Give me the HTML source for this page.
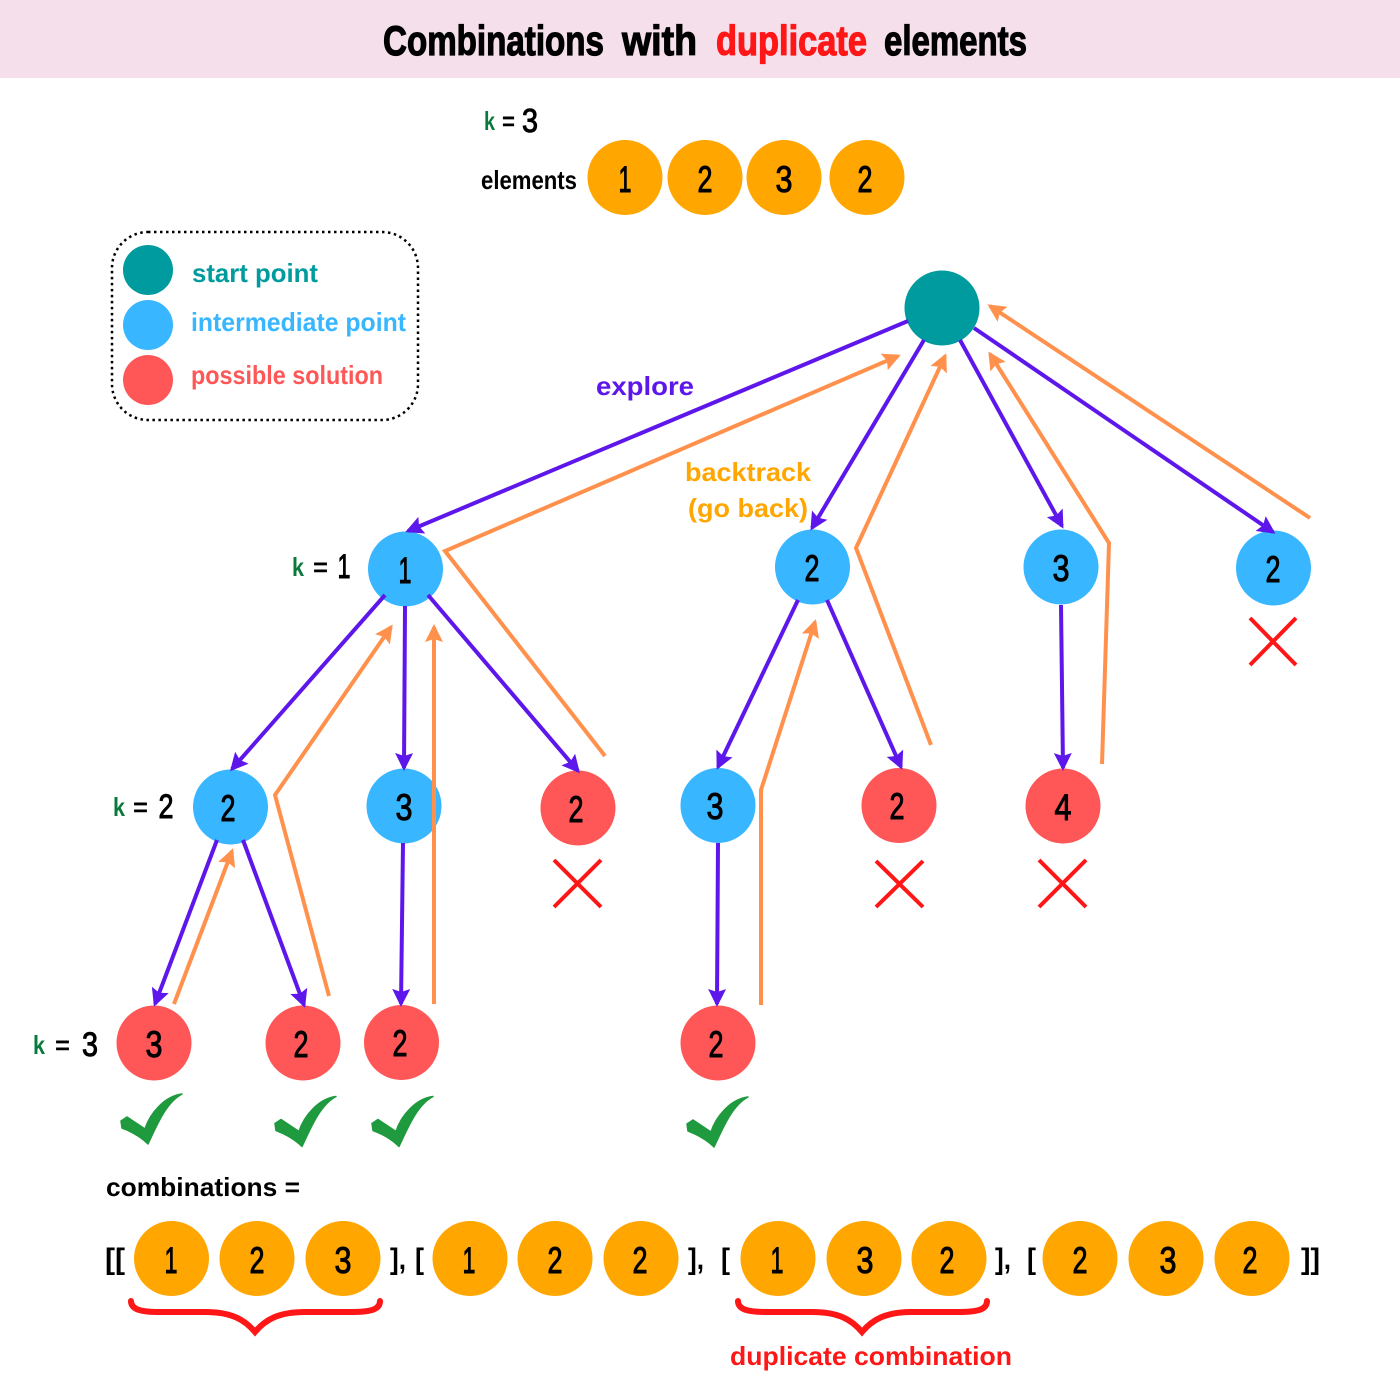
<!DOCTYPE html>
<html><head><meta charset="utf-8"><style>
html,body{margin:0;padding:0;background:#fff}
svg{display:block}
text{font-family:"Liberation Sans",sans-serif;}
.n{font-size:37px;text-anchor:middle;fill:#000;stroke:#000;stroke-width:1}
.l{font-weight:bold;font-size:26px}
.t{font-weight:bold;font-size:42px;stroke-width:1.2}
.p{stroke:#5e17eb;stroke-width:4;fill:none}
.o{stroke:#ff914d;stroke-width:4;fill:none}
.x{stroke:#ff1616;stroke-width:4;fill:none}
.b{stroke:#ff1616;stroke-width:6;fill:none;stroke-linecap:round}
</style></head><body>
<svg width="1400" height="1400" viewBox="0 0 1400 1400" xmlns="http://www.w3.org/2000/svg">
<defs>
<marker id="mp" markerUnits="userSpaceOnUse" markerWidth="22" markerHeight="22" refX="15" refY="9" orient="auto"><path d="M0 0L18 9L0 18L3 9Z" fill="#5e17eb"/></marker>
<marker id="mo" markerUnits="userSpaceOnUse" markerWidth="22" markerHeight="22" refX="15" refY="9" orient="auto"><path d="M0 0L18 9L0 18L3 9Z" fill="#ff914d"/></marker>
<path id="chk" d="M182 1094C167 1102 158 1122 148 1144C140 1136 130 1131 122 1128L121 1121L127 1117L145 1129C150 1113 165 1096 182 1094Z" fill="#1f9a3e" stroke="#1f9a3e" stroke-width="1.5" stroke-linejoin="round"/>
<path id="br" class="b" d="M131 1301C131 1310 142 1312 160 1312L205 1312C232 1312 245 1320 255 1332C265 1320 278 1312 305 1312L350 1312C370 1312 380 1310 380 1301"/>
</defs>
<rect width="1400" height="78" fill="#f4dfeb"/>
<g class="t">
<text class="t" x="383" y="55" textLength="221" lengthAdjust="spacingAndGlyphs" fill="#000" stroke="#000">Combinations</text>
<text class="t" x="622" y="55" textLength="75" lengthAdjust="spacingAndGlyphs" fill="#000" stroke="#000">with</text>
<text class="t" x="716" y="55" textLength="151" lengthAdjust="spacingAndGlyphs" fill="#ff1616" stroke="#ff1616">duplicate</text>
<text class="t" x="884" y="55" textLength="143" lengthAdjust="spacingAndGlyphs" fill="#000" stroke="#000">elements</text>
</g>

<text class="l" x="484" y="130" textLength="11" lengthAdjust="spacingAndGlyphs" fill="#0a7a3c">k</text>
<text class="l" x="502" y="130" textLength="13" lengthAdjust="spacingAndGlyphs">=</text>
<text class="n" x="530" y="132" textLength="16" lengthAdjust="spacingAndGlyphs" style="font-size:33px">3</text>
<text class="l" x="481" y="189" textLength="96" lengthAdjust="spacingAndGlyphs">elements</text>

<g fill="#ffa600">
<circle cx="625" cy="177.5" r="37.5"/><circle cx="705" cy="177.5" r="37.5"/><circle cx="784" cy="177.5" r="37.5"/><circle cx="867" cy="177.5" r="37.5"/>
</g>
<g>
<text class="n" x="625" y="192" textLength="13" lengthAdjust="spacingAndGlyphs">1</text>
<text class="n" x="705" y="192" textLength="15" lengthAdjust="spacingAndGlyphs">2</text>
<text class="n" x="784" y="192" textLength="17" lengthAdjust="spacingAndGlyphs">3</text>
<text class="n" x="865" y="192" textLength="15" lengthAdjust="spacingAndGlyphs">2</text>
</g>

<rect x="112" y="232" width="306" height="188" rx="36" fill="none" stroke="#000" stroke-width="2.5" stroke-dasharray="2.5 3.5"/>
<circle cx="148" cy="270" r="25" fill="#009b9e"/>
<circle cx="148" cy="325" r="25" fill="#38b6ff"/>
<circle cx="148" cy="380" r="25" fill="#ff5757"/>
<text class="l" x="192" y="282" textLength="126" lengthAdjust="spacingAndGlyphs" fill="#009b9e">start point</text>
<text class="l" x="191" y="331" textLength="215" lengthAdjust="spacingAndGlyphs" fill="#38b6ff">intermediate point</text>
<text class="l" x="191" y="384" textLength="192" lengthAdjust="spacingAndGlyphs" fill="#ff5757">possible solution</text>

<!-- nodes -->
<circle cx="942" cy="308" r="37.5" fill="#009b9e"/>
<g fill="#38b6ff">
<circle cx="405.5" cy="569" r="37.5"/><circle cx="812.5" cy="567" r="37.5"/><circle cx="1061" cy="567" r="37.5"/><circle cx="1273.5" cy="568" r="37.5"/>
<circle cx="230.5" cy="807" r="37.5"/><circle cx="404" cy="806" r="37.5"/><circle cx="718" cy="805.5" r="37.5"/>
</g>
<g fill="#ff5757">
<circle cx="578" cy="808" r="37.5"/><circle cx="899" cy="805.5" r="37.5"/><circle cx="1063" cy="806" r="37.5"/>
<circle cx="154" cy="1043" r="37.5"/><circle cx="303" cy="1043" r="37.5"/><circle cx="401.5" cy="1042.5" r="37.5"/><circle cx="718" cy="1043" r="37.5"/>
</g>
<g>
<text class="n" x="405" y="583" textLength="13" lengthAdjust="spacingAndGlyphs">1</text>
<text class="n" x="812" y="581" textLength="15" lengthAdjust="spacingAndGlyphs">2</text>
<text class="n" x="1061" y="581" textLength="17" lengthAdjust="spacingAndGlyphs">3</text>
<text class="n" x="1273" y="582" textLength="15" lengthAdjust="spacingAndGlyphs">2</text>
<text class="n" x="228" y="821" textLength="15" lengthAdjust="spacingAndGlyphs">2</text>
<text class="n" x="404" y="820" textLength="17" lengthAdjust="spacingAndGlyphs">3</text>
<text class="n" x="576" y="822" textLength="15" lengthAdjust="spacingAndGlyphs">2</text>
<text class="n" x="715" y="819" textLength="17" lengthAdjust="spacingAndGlyphs">3</text>
<text class="n" x="897" y="819" textLength="15" lengthAdjust="spacingAndGlyphs">2</text>
<text class="n" x="1063" y="820" textLength="17" lengthAdjust="spacingAndGlyphs">4</text>
<text class="n" x="154" y="1057" textLength="17" lengthAdjust="spacingAndGlyphs">3</text>
<text class="n" x="301" y="1057" textLength="15" lengthAdjust="spacingAndGlyphs">2</text>
<text class="n" x="400" y="1056" textLength="15" lengthAdjust="spacingAndGlyphs">2</text>
<text class="n" x="716" y="1057" textLength="15" lengthAdjust="spacingAndGlyphs">2</text>
</g>

<!-- explore -->
<path class="p" marker-end="url(#mp)" d="M908 321L408 531"/>
<path class="p" marker-end="url(#mp)" d="M924 340L812 528"/>
<path class="p" marker-end="url(#mp)" d="M960 340L1062 526"/>
<path class="p" marker-end="url(#mp)" d="M974 328L1273 532"/>
<path class="p" marker-end="url(#mp)" d="M385 595L232 769"/>
<path class="p" marker-end="url(#mp)" d="M405 606L404 768"/>
<path class="p" marker-end="url(#mp)" d="M428 595L578 771"/>
<path class="p" marker-end="url(#mp)" d="M798 600L718 767"/>
<path class="p" marker-end="url(#mp)" d="M827 600L901 767"/>
<path class="p" marker-end="url(#mp)" d="M1061 605L1063 768"/>
<path class="p" marker-end="url(#mp)" d="M217 840L155 1004"/>
<path class="p" marker-end="url(#mp)" d="M243 840L304 1005"/>
<path class="p" marker-end="url(#mp)" d="M403 843L401 1004"/>
<path class="p" marker-end="url(#mp)" d="M718 843L717 1004"/>
<!-- backtrack -->
<path class="o" marker-end="url(#mo)" d="M605 756L445 551L898 356"/>
<path class="o" marker-end="url(#mo)" d="M931 745L856 548L945 356"/>
<path class="o" marker-end="url(#mo)" d="M1102 764L1109 543L990 354"/>
<path class="o" marker-end="url(#mo)" d="M1310 518L990 306"/>
<path class="o" marker-end="url(#mo)" d="M329 996L275 795L391 627"/>
<path class="o" marker-end="url(#mo)" d="M434 1004L434 627"/>
<path class="o" marker-end="url(#mo)" d="M174 1004L232 851"/>
<path class="o" marker-end="url(#mo)" d="M761 1005L761 790L815 622"/>

<text class="l" x="596" y="395" textLength="98" lengthAdjust="spacingAndGlyphs" fill="#5e17eb">explore</text>
<text class="l" x="685" y="481" textLength="126" lengthAdjust="spacingAndGlyphs" fill="#ffa600">backtrack</text>
<text class="l" x="688" y="517" textLength="120" lengthAdjust="spacingAndGlyphs" fill="#ffa600">(go back)</text>

<text class="l" x="292" y="576" textLength="12" lengthAdjust="spacingAndGlyphs" fill="#0a7a3c">k</text>
<text class="l" x="313" y="576" textLength="15" lengthAdjust="spacingAndGlyphs">=</text>
<text class="n" x="344" y="578" textLength="13" lengthAdjust="spacingAndGlyphs" style="font-size:34px">1</text>
<text class="l" x="113" y="816" textLength="12" lengthAdjust="spacingAndGlyphs" fill="#0a7a3c">k</text>
<text class="l" x="133" y="816" textLength="15" lengthAdjust="spacingAndGlyphs">=</text>
<text class="n" x="166" y="818" textLength="15" lengthAdjust="spacingAndGlyphs" style="font-size:34px">2</text>
<text class="l" x="33" y="1054" textLength="12" lengthAdjust="spacingAndGlyphs" fill="#0a7a3c">k</text>
<text class="l" x="55" y="1054" textLength="15" lengthAdjust="spacingAndGlyphs">=</text>
<text class="n" x="90" y="1056" textLength="16" lengthAdjust="spacingAndGlyphs" style="font-size:34px">3</text>

<!-- crosses -->
<path class="x" d="M1250 618L1296 665M1296 618L1250 665"/>
<path class="x" d="M554 860L601 907M601 860L554 907"/>
<path class="x" d="M876 861L923 907M923 861L876 907"/>
<path class="x" d="M1039 860L1086 907M1086 860L1039 907"/>

<!-- checks -->
<use href="#chk"/>
<use href="#chk" x="154" y="2.5"/>
<use href="#chk" x="251" y="2.5"/>
<use href="#chk" x="566" y="3"/>

<text class="l" x="106" y="1196" textLength="194" lengthAdjust="spacingAndGlyphs">combinations =</text>

<!-- bottom -->
<g fill="#ffa600">
<circle cx="171.5" cy="1258.5" r="37.5"/><circle cx="257" cy="1258.5" r="37.5"/><circle cx="343" cy="1258.5" r="37.5"/>
<circle cx="470" cy="1258.5" r="37.5"/><circle cx="555" cy="1258.5" r="37.5"/><circle cx="641" cy="1258.5" r="37.5"/>
<circle cx="778" cy="1258.5" r="37.5"/><circle cx="864" cy="1258.5" r="37.5"/><circle cx="949" cy="1258.5" r="37.5"/>
<circle cx="1080" cy="1258.5" r="37.5"/><circle cx="1166" cy="1258.5" r="37.5"/><circle cx="1252" cy="1258.5" r="37.5"/>
</g>
<g>
<text class="n" x="171" y="1273" textLength="13" lengthAdjust="spacingAndGlyphs">1</text>
<text class="n" x="257" y="1273" textLength="15" lengthAdjust="spacingAndGlyphs">2</text>
<text class="n" x="343" y="1273" textLength="17" lengthAdjust="spacingAndGlyphs">3</text>
<text class="n" x="469" y="1273" textLength="13" lengthAdjust="spacingAndGlyphs">1</text>
<text class="n" x="555" y="1273" textLength="15" lengthAdjust="spacingAndGlyphs">2</text>
<text class="n" x="640" y="1273" textLength="15" lengthAdjust="spacingAndGlyphs">2</text>
<text class="n" x="777" y="1273" textLength="13" lengthAdjust="spacingAndGlyphs">1</text>
<text class="n" x="865" y="1273" textLength="17" lengthAdjust="spacingAndGlyphs">3</text>
<text class="n" x="947" y="1273" textLength="15" lengthAdjust="spacingAndGlyphs">2</text>
<text class="n" x="1080" y="1273" textLength="15" lengthAdjust="spacingAndGlyphs">2</text>
<text class="n" x="1168" y="1273" textLength="17" lengthAdjust="spacingAndGlyphs">3</text>
<text class="n" x="1250" y="1273" textLength="15" lengthAdjust="spacingAndGlyphs">2</text>
</g>
<g style="font-weight:bold;font-size:30px">
<text x="105" y="1269" textLength="20" lengthAdjust="spacingAndGlyphs">[[</text>
<text x="390" y="1269" textLength="16" lengthAdjust="spacingAndGlyphs">],</text>
<text x="415" y="1269" textLength="9" lengthAdjust="spacingAndGlyphs">[</text>
<text x="688" y="1269" textLength="16" lengthAdjust="spacingAndGlyphs">],</text>
<text x="721" y="1269" textLength="9" lengthAdjust="spacingAndGlyphs">[</text>
<text x="995" y="1269" textLength="16" lengthAdjust="spacingAndGlyphs">],</text>
<text x="1027" y="1269" textLength="9" lengthAdjust="spacingAndGlyphs">[</text>
<text x="1301" y="1269" textLength="19" lengthAdjust="spacingAndGlyphs">]]</text>
</g>
<use href="#br"/>
<use href="#br" x="607"/>
<text class="l" x="730" y="1365" textLength="282" lengthAdjust="spacingAndGlyphs" fill="#ff1616">duplicate combination</text>
</svg>
</body></html>
